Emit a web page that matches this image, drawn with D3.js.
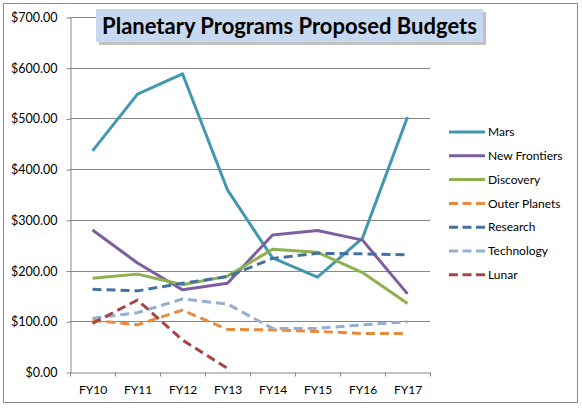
<!DOCTYPE html>
<html>
<head>
<meta charset="utf-8">
<script src="https://cdn.jsdelivr.net/npm/d3@7"></script>
<style>
  body { margin: 0; background: #fff; }
  svg { font-family: Lato, "Open Sans", sans-serif; }
</style>
</head>
<body>
<div id="chart"></div>
<script>
// data
const years = ['FY10', 'FY11', 'FY12', 'FY13', 'FY14', 'FY15', 'FY16', 'FY17'];
const mars = [436, 548, 588, 359, 225, 187, 264, 503];
const newFrontiers = [280, 215, 162, 175, 270, 279, 260, 154];
const discovery = [185, 193, 172, 189, 242, 236, 196, 135];
const outerPlanets = [102, 93, 122, 84, 83, 80, 76, 76];
const research = [163, 160, 175, 188, 224, 234, 233, 231];
const technology = [106, 117, 144, 134, 86, 86, 93, 99];
const lunar = [96, 142, 63, 7];
const yTicks = [0, 100, 200, 300, 400, 500, 600, 700];

const series = [
  { name: 'Mars', values: mars, color: '#4198af', dashed: false },
  { name: 'New Frontiers', values: newFrontiers, color: '#7d5fa0', dashed: false },
  { name: 'Discovery', values: discovery, color: '#8fb04f', dashed: false },
  { name: 'Outer Planets', values: outerPlanets, color: '#e98b3e', dashed: true },
  { name: 'Research', values: research, color: '#44729f', dashed: true },
  { name: 'Technology', values: technology, color: '#94afd3', dashed: true },
  { name: 'Lunar', values: lunar, color: '#a84544', dashed: true }
];

const W = 582, H = 410;
const plot = { left: 70, right: 430, top: 17, bottom: 372 };

const svg = d3.select('#chart').append('svg')
  .attr('width', W).attr('height', H);

// outer frame
svg.append('rect')
  .attr('x', 3.5).attr('y', 3.5)
  .attr('width', 574).attr('height', 399)
  .attr('fill', '#fff').attr('stroke', '#8c8c8c');

const x = d3.scaleBand().domain(years).range([plot.left, plot.right]);
const y = d3.scaleLinear().domain([0, 700]).range([plot.bottom, plot.top]);

// gridlines
svg.append('g').selectAll('line')
  .data(yTicks.slice(1))
  .enter().append('line')
  .attr('x1', plot.left).attr('x2', plot.right)
  .attr('y1', d => Math.round(y(d)) + 0.5).attr('y2', d => Math.round(y(d)) + 0.5)
  .attr('stroke', '#868686').attr('stroke-width', 1);

// y axis
const yAxis = svg.append('g')
  .attr('transform', `translate(${plot.left + 0.5},0.5)`)
  .call(d3.axisLeft(y).tickValues(yTicks).tickSize(4).tickSizeOuter(0)
    .tickFormat(d => '$' + d3.format('.2f')(d)));
yAxis.select('.domain').attr('stroke', '#868686');
yAxis.selectAll('.tick line').attr('stroke', '#868686');
yAxis.selectAll('.tick text')
  .attr('font-size', 12.5).attr('fill', '#000').attr('x', -13)
  .attr('font-family', 'Lato, "Open Sans", sans-serif');

// x axis
const xAxis = svg.append('g')
  .attr('transform', `translate(0.5,${plot.bottom + 0.5})`)
  .call(d3.axisBottom(x).tickSize(0).tickSizeOuter(0));
xAxis.select('.domain').attr('stroke', '#868686');
xAxis.selectAll('.tick text')
  .attr('font-size', 12).attr('fill', '#000').attr('dy', '1.55em')
  .attr('font-family', 'Lato, "Open Sans", sans-serif');
// category boundary ticks
xAxis.append('g').selectAll('line')
  .data(years.concat(['end']))
  .enter().append('line')
  .attr('x1', (d, i) => Math.round(plot.left + i * x.step()))
  .attr('x2', (d, i) => Math.round(plot.left + i * x.step()))
  .attr('y1', 0).attr('y2', 4)
  .attr('stroke', '#868686');

// lines
const line = d3.line()
  .x((d, i) => x(years[i]) + x.bandwidth() / 2)
  .y(d => y(d));

svg.append('g').selectAll('path')
  .data(series)
  .enter().append('path')
  .attr('d', d => line(d.values))
  .attr('fill', 'none')
  .attr('stroke', d => d.color)
  .attr('stroke-width', 3)
  .attr('stroke-linejoin', 'round')
  .attr('stroke-dasharray', d => d.dashed ? '9,5' : null);

// legend
const legend = svg.append('g').attr('transform', 'translate(449,132)');
const item = legend.selectAll('g')
  .data(series)
  .enter().append('g')
  .attr('transform', (d, i) => `translate(0,${i * 23.8})`);
item.append('line')
  .attr('x1', 0).attr('x2', 36).attr('y1', 0).attr('y2', 0)
  .attr('stroke', d => d.color).attr('stroke-width', 3)
  .attr('stroke-dasharray', d => d.dashed ? '9,4.5' : null);
item.append('text')
  .attr('x', 39).attr('y', 0).attr('dy', '0.35em')
  .attr('font-size', 12)
  .text(d => d.name);

// title box with shadow
const title = svg.append('g');
title.append('rect')
  .attr('x', 99).attr('y', 12).attr('width', 387).attr('height', 33)
  .attr('fill', '#9a9a9a').attr('opacity', 0.6);
title.append('rect')
  .attr('x', 96).attr('y', 9).attr('width', 387).attr('height', 33)
  .attr('fill', '#c6d9f1');
title.append('text')
  .attr('x', 289.5).attr('y', 26).attr('dy', '0.36em')
  .attr('text-anchor', 'middle')
  .attr('font-size', 22).attr('font-weight', 'bold')
  .attr('fill', '#000')
  .text('Planetary Programs Proposed Budgets');
</script>
</body>
</html>
